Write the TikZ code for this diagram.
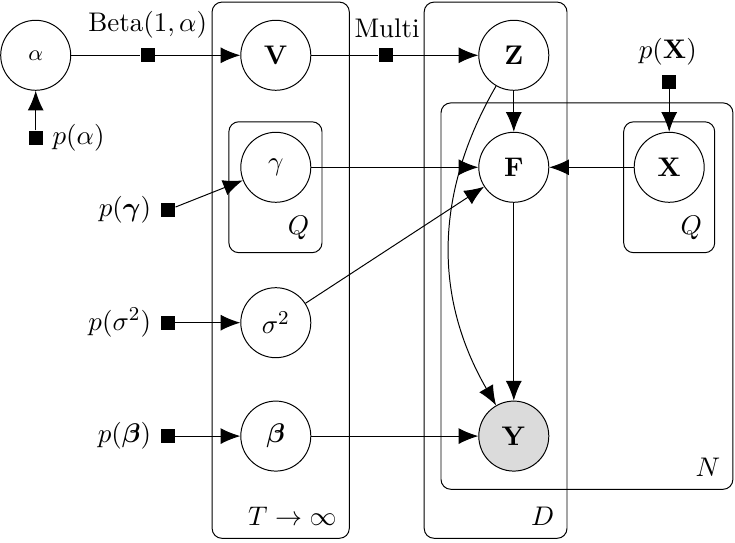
\documentclass[tikz,border=0pt,11pt]{standalone}
\usepackage{amsmath,amssymb}
\usetikzlibrary{arrows.meta}

\begin{document}
\begin{tikzpicture}[>={Latex[length=8pt,width=6.5pt]},
    latent/.style={circle,draw,minimum size=1cm,inner sep=0pt},
    obs/.style={latent,fill=black!14},
    fac/.style={rectangle,fill=black,minimum size=0.2cm,inner sep=0pt},
    plate/.style={draw,rounded corners=4pt},
    platelabel/.style={anchor=south east,inner sep=5pt}]
  \useasboundingbox (0,0) rectangle (10.5,-7.757);
  % Plates
  \draw[plate] (3.03,-0.03) rectangle (4.99,-7.69);
  \draw[plate] (6.06,-0.03) rectangle (8.1,-7.69);
  \draw[plate] (6.3,-1.47) rectangle (10.47,-6.99);
  \draw[plate] (3.27,-1.74) rectangle (4.6,-3.61);
  \draw[plate] (8.91,-1.74) rectangle (10.21,-3.61);
  \node[platelabel] (lT) at (4.99,-7.69) {$T\to\infty$};
  \node[platelabel] (lD) at (8.1,-7.69) {$D$};
  \node[platelabel] (lN) at (10.47,-6.99) {$N$};
  \node[platelabel] (lQg) at (4.6,-3.61) {$Q$};
  \node[platelabel] (lQx) at (10.21,-3.61) {$Q$};
  % Variables
  \node[latent] (alpha) at (0.51,-0.79) {\footnotesize$\alpha$};
  \node[latent] (V) at (3.94,-0.79) {$\mathbf{V}$};
  \node[latent] (Z) at (7.34,-0.79) {$\mathbf{Z}$};
  \node[latent] (gamma) at (3.94,-2.39) {$\gamma$};
  \node[latent] (F) at (7.34,-2.39) {$\mathbf{F}$};
  \node[latent] (X) at (9.56,-2.39) {$\mathbf{X}$};
  \node[latent] (sigma) at (3.94,-4.61) {$\sigma^2$};
  \node[latent] (beta) at (3.94,-6.23) {$\boldsymbol{\beta}$};
  \node[obs] (Y) at (7.34,-6.23) {$\mathbf{Y}$};
  % Factors
  \node[fac] (fbeta) at (2.11,-0.79) {};
  \node[fac] (fmulti) at (5.51,-0.79) {};
  \node[fac] (fpa) at (0.51,-1.97) {};
  \node[fac] (fpg) at (2.4,-3.0) {};
  \node[fac] (fps) at (2.4,-4.61) {};
  \node[fac] (fpb) at (2.4,-6.23) {};
  \node[fac] (fpx) at (9.56,-1.17) {};
  \node (lbeta) at (2.11,-0.36) {Beta$(1,\alpha)$};
  \node (lmulti) at (5.53,-0.41) {Multi};
  \node[right] (lpa) at (fpa.east) {$p(\alpha)$};
  \node[left] (lpg) at (fpg.west) {$p(\boldsymbol{\gamma})$};
  \node[left] (lps) at (fps.west) {$p(\sigma^2)$};
  \node[left] (lpb) at (fpb.west) {$p(\boldsymbol{\beta})$};
  \node (lpx) at (9.54,-0.74) {$p(\mathbf{X})$};
  % Edges
  \draw (alpha) -- (fbeta);
  \draw[->] (fbeta) -- (V);
  \draw (V) -- (fmulti);
  \draw[->] (fmulti) -- (Z);
  \draw[->] (fpa) -- (alpha);
  \draw[->] (fpg) -- (gamma);
  \draw[->] (fps) -- (sigma);
  \draw[->] (fpb) -- (beta);
  \draw[->] (fpx) -- (X);
  \draw[->] (Z) -- (F);
  \draw[->] (gamma) -- (F);
  \draw[->] (X) -- (F);
  \draw[->] (sigma) -- (F);
  \draw[->] (F) -- (Y);
  \draw[->] (beta) -- (Y);
  \draw[->] (Z) to[bend right=30] (Y);
\end{tikzpicture}
\end{document}
